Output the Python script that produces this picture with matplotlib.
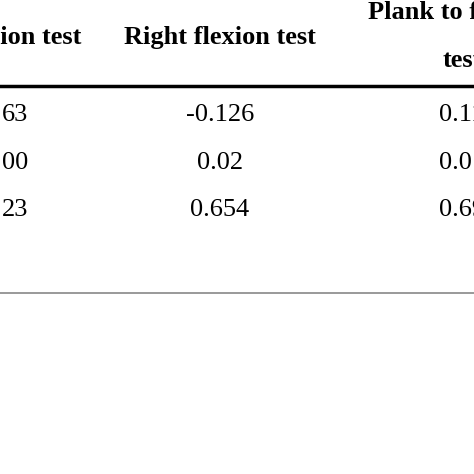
import matplotlib
matplotlib.use("Agg")
import matplotlib.pyplot as plt

headers = ["xion test", "Right flexion test", "Plank to f"]
header2 = ["", "", "test"]
col_x = [10, 220, 462]
rows = [["63", "-0.126", "0.11"],
        ["00", "0.02", "0.01"],
        ["23", "0.654", "0.69"]]
row_y = [115, 163, 210]

W = H = 474
fig = plt.figure(figsize=(4.74, 4.74), dpi=100)
ax = fig.add_axes([0, 0, 1, 1])
ax.set_xlim(0, W); ax.set_ylim(H, 0); ax.axis("off")
font = dict(family=["Liberation Serif", "DejaVu Serif"], fontsize=19)

ax.text(81, 37, headers[0], ha="right", va="center", fontweight="bold", **font)
ax.text(col_x[1], 37, headers[1], ha="center", va="center", fontweight="bold", **font)
ax.text(368, 12, headers[2], ha="left", va="center", fontweight="bold", **font)
ax.text(443, 60, header2[2], ha="left", va="center", fontweight="bold", **font)

ax.plot([0, W], [86, 86], color="black", lw=2.5)
ax.plot([0, W], [293, 293], color="#888888", lw=1.2)

for y, r in zip(row_y, rows):
    ax.text(28, y, r[0], ha="right", va="center", **font)
    ax.text(col_x[1], y, r[1], ha="center", va="center", **font)
    ax.text(col_x[2], y, r[2], ha="center", va="center", **font)

fig.savefig("out.png", dpi=100)
